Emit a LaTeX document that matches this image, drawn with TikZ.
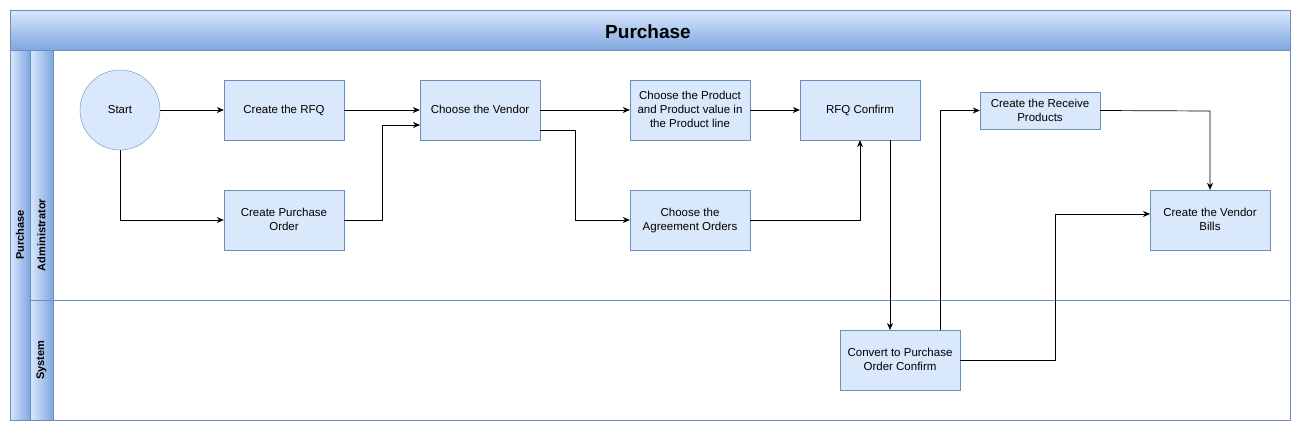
\documentclass[tikz,border=0pt]{standalone}
\usepackage{fontspec}
\setmainfont{Liberation Sans}
\usetikzlibrary{arrows.meta}
\definecolor{fillb}{HTML}{DAE8FC}
\definecolor{strokeb}{HTML}{6C8EBF}
\definecolor{darkb}{HTML}{7EA6E0}
\begin{document}
\begin{tikzpicture}[x=1pt,y=-1pt,
  box/.style={draw=strokeb,fill=fillb,minimum width=120pt,minimum height=60pt,align=center,font=\fontsize{11.5}{14}\selectfont,inner sep=1pt,text depth=1pt},
  conn/.style={-{Stealth[length=7pt,width=6pt]},line width=0.7pt}]
\useasboundingbox (0,0) rectangle (1301,431);
\fill[white] (0,0) rectangle (1301,431);
\shade[top color=fillb,bottom color=darkb,draw=strokeb] (10,10) rectangle (1290,50);
\node[font=\bfseries\fontsize{19}{22}\selectfont] (title) at (648,32) {Purchase};
\shade[left color=fillb,right color=darkb,draw=strokeb] (10,50) rectangle (30,420);
\node[rotate=90,font=\bfseries\fontsize{11}{13}\selectfont] (pool) at (20,235) {Purchase};
\shade[left color=fillb,right color=darkb,draw=strokeb] (30,50) rectangle (53,300);
\shade[left color=fillb,right color=darkb,draw=strokeb] (30,300) rectangle (53,420);
\node[rotate=90,font=\bfseries\fontsize{11}{13}\selectfont] (admin) at (41.5,235) {Administrator};
\node[rotate=90,font=\bfseries\fontsize{11}{13}\selectfont] (sys) at (41.5,360) {System};
\draw[strokeb] (53,50) rectangle (1290,420);
\draw[strokeb] (53,300) -- (1290,300);

\node[circle,draw=strokeb,fill=fillb,minimum size=80pt,font=\fontsize{11.5}{14}\selectfont] (start) at (120,110) {Start};
\node[box] (rfq) at (284,110) {Create the RFQ};
\node[box] (cpo) at (284,220) {Create Purchase\\Order};
\node[box] (vendor) at (480,110) {Choose the Vendor};
\node[box] (prod) at (690,110) {Choose the Product\\and Product value in\\the Product line};
\node[box] (agree) at (690,220) {Choose the\\Agreement Orders};
\node[box] (conf) at (860,110) {RFQ Confirm};
\node[box,minimum height=37pt] (recv) at (1040,110.5) {Create the Receive\\Products};
\node[box] (bills) at (1210,220) {Create the Vendor\\Bills};
\node[box] (conv) at (900,360) {Convert to Purchase\\Order Confirm};

\coordinate (v1) at (420,125);
\coordinate (v2) at (540,130);
\coordinate (cf) at (890,140);
\coordinate (cv) at (890,330);
\coordinate (cv2) at (940,330);
\coordinate (b1) at (1150,214);
\coordinate (r1) at (1210,111);

\draw[conn] (start) -- (rfq);
\draw[conn] (start.south) |- (cpo.west);
\draw[conn] (rfq) -- (vendor);
\draw[conn] (cpo.east) -- (382,220) |- (v1);
\draw[conn] (vendor) -- (prod);
\draw[conn] (v2) -- (575,130) |- (agree.west);
\draw[conn] (prod) -- (conf);
\draw[conn] (agree.east) -| (conf.south);
\draw[conn] (cf) -- (cv);
\draw[conn] (cv2) |- (recv.west);
\draw[conn] (conv.east) -- (1055,360) |- (b1);
\draw[conn] (recv.east) -- (r1) -- (bills.north);
\end{tikzpicture}
\end{document}
